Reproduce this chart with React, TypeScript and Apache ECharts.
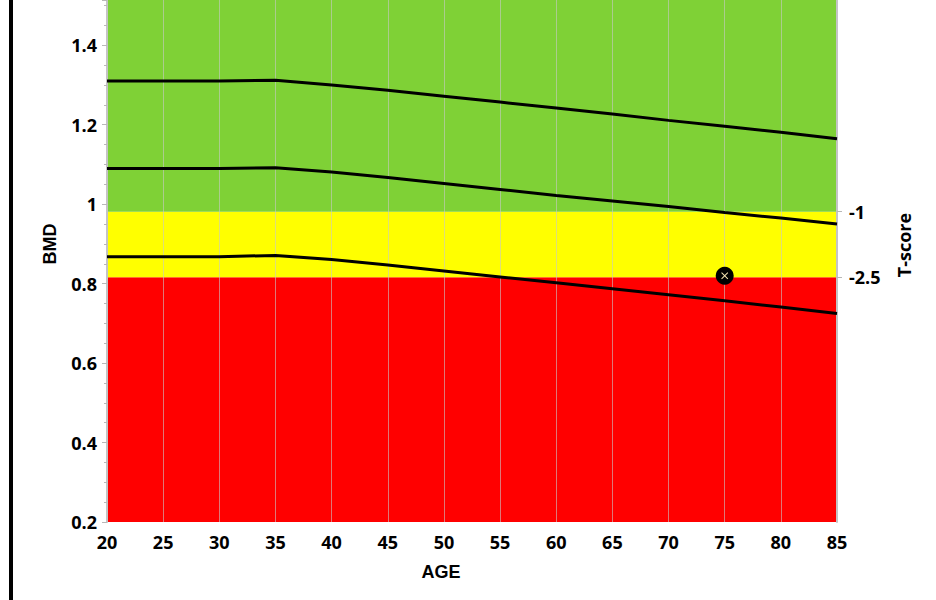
import React, { useEffect, useRef } from "react";
import * as echarts from "echarts";

const ages = [20, 25, 30, 35, 40, 45, 50, 55, 60, 65, 70, 75, 80, 85];
const upperLine = [1.31, 1.31, 1.31, 1.312, 1.3, 1.287, 1.272, 1.257, 1.242, 1.227, 1.211, 1.196, 1.181, 1.165];
const middleLine = [1.09, 1.09, 1.09, 1.092, 1.081, 1.067, 1.052, 1.037, 1.022, 1.008, 0.994, 0.979, 0.965, 0.95];
const lowerLine = [0.868, 0.868, 0.868, 0.871, 0.861, 0.847, 0.832, 0.817, 0.802, 0.787, 0.772, 0.757, 0.741, 0.725];

const patientAge = 75;
const patientBmd = 0.82;

const tScoreLabels = ["-1", "-2.5"];
const tScoreBmd = [0.981, 0.816];

const bandBounds = [0.2, 0.816, 0.981, 1.514];
const bandColors = ["#ff0000", "#ffff00", "#7fd136"];

const xMin = 20;
const xMax = 85;
const xInterval = 5;
const yMin = 0.2;
const yMax = 1.514;
const yInterval = 0.2;

const tickFont = { fontFamily: "Open Sans", fontWeight: "bold" as const, fontSize: 18, color: "#000" };

export default function App() {
  const ref = useRef<HTMLDivElement>(null);
  useEffect(() => {
    if (!ref.current) return;
    const chart = echarts.init(ref.current, null, { renderer: "svg" });
    const bands = bandColors.map((c, i) => [
      { yAxis: bandBounds[i], itemStyle: { color: c, opacity: 1 } },
      { yAxis: bandBounds[i + 1] },
    ]);
    const mk = (arr: number[]) => ages.map((a, i) => [a, arr[i]]);
    const lineSeries = (name: string, arr: number[]) => ({
      name,
      type: "line",
      data: mk(arr),
      showSymbol: false,
      symbol: "none",
      z: 5,
      lineStyle: { color: "#000", width: 3 },
      silent: true,
    });
    chart.setOption({
      animation: false,
      grid: { left: 107, right: 99, top: 0, bottom: 78, containLabel: false },
      xAxis: {
        type: "value",
        min: xMin,
        max: xMax,
        interval: xInterval,
        z: 3,
        axisLine: { show: false },
        axisTick: { show: false },
        axisLabel: { ...tickFont, margin: 11 },
        splitLine: { show: true, lineStyle: { color: "rgba(200,200,200,0.6)", width: 1 } },
      },
      yAxis: [
        {
          type: "value",
          min: yMin,
          max: yMax,
          interval: yInterval,
          z: 3,
          axisLine: { show: true, lineStyle: { color: "#c4c4c4", width: 2 } },
          axisTick: { show: true, length: 5, lineStyle: { color: "#b8b8b8", width: 1 } },
          minorTick: { show: true, splitNumber: 4, length: 3, lineStyle: { color: "#b8b8b8", width: 1 } },
          axisLabel: { ...tickFont, margin: 10, showMaxLabel: false },
          splitLine: { show: false },
        },
        {
          type: "value",
          position: "right",
          min: yMin,
          max: yMax,
          z: 3,
          axisLine: { show: true, lineStyle: { color: "#c4c4c4", width: 2 } },
          axisTick: { show: true, length: 5, customValues: tScoreBmd, lineStyle: { color: "#b8b8b8", width: 1 } },
          axisLabel: {
            ...tickFont,
            margin: 12,
            customValues: tScoreBmd,
            formatter: (v: number) => {
              const i = tScoreBmd.findIndex((b) => Math.abs(b - v) < 1e-6);
              return i >= 0 ? tScoreLabels[i] : "";
            },
          },
          splitLine: { show: false },
        },
      ],
      series: [
        {
          type: "line",
          data: [],
          z: 1,
          silent: true,
          markArea: { silent: true, data: bands },
        },
        lineSeries("upper", upperLine),
        lineSeries("middle", middleLine),
        lineSeries("lower", lowerLine),
        {
          type: "scatter",
          data: [[patientAge, patientBmd]],
          symbol: "circle",
          symbolSize: 18,
          z: 6,
          itemStyle: { color: "#000", opacity: 1 },
          silent: true,
        },
        {
          type: "scatter",
          data: [[patientAge, patientBmd]],
          symbol: "path://M1,0L5,4L9,0L10,1L6,5L10,9L9,10L5,6L1,10L0,9L4,5L0,1Z",
          symbolSize: 7,
          z: 7,
          itemStyle: { color: "#f3e2b0", opacity: 1 },
          silent: true,
        },
      ],
      graphic: [
        { type: "rect", left: 9, top: 0, shape: { width: 4, height: 600 }, style: { fill: "#000" } },
        {
          type: "text",
          x: 441,
          y: 572,
          style: {
            text: "AGE",
            align: "center",
            verticalAlign: "middle",
            fontFamily: "Liberation Sans",
            fontWeight: "bold",
            fontSize: 18,
            fill: "#000",
          },
        },
        {
          type: "text",
          x: 50,
          y: 244,
          rotation: Math.PI / 2,
          style: {
            text: "BMD",
            align: "center",
            verticalAlign: "middle",
            fontFamily: "Liberation Sans",
            fontWeight: "bold",
            fontSize: 18,
            fill: "#000",
          },
        },
        {
          type: "text",
          x: 904,
          y: 245,
          rotation: Math.PI / 2,
          style: {
            text: "T-score",
            align: "center",
            verticalAlign: "middle",
            fontFamily: "Open Sans",
            fontWeight: "bold",
            fontSize: 18,
            fill: "#000",
          },
        },
      ],
    });
    return () => chart.dispose();
  }, []);
  return (
    <div
      ref={ref}
      style={{ position: "fixed", left: 0, top: 0, width: 936, height: 600, background: "#fff" }}
    />
  );
}
